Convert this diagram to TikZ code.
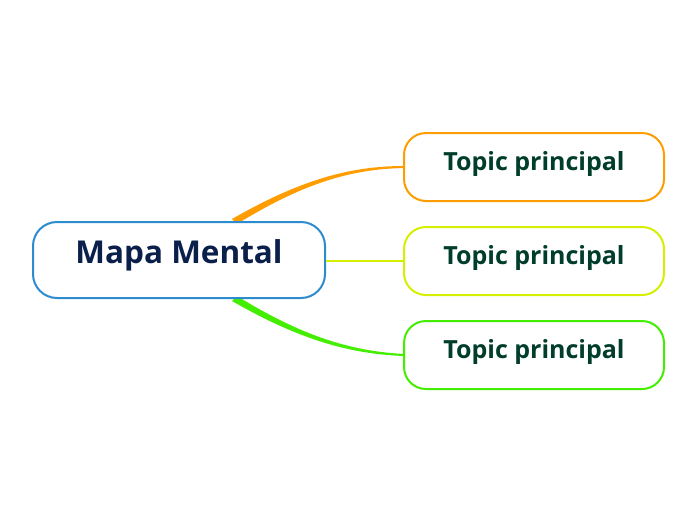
\documentclass[tikz,border=0pt]{standalone}
\usepackage{fontspec}
\setmainfont{Open Sans}
\usetikzlibrary{positioning,calc}
\definecolor{rootblue}{HTML}{2D8BD0}
\definecolor{navy}{HTML}{0B1F4B}
\definecolor{topicgreen}{HTML}{003D2B}
\definecolor{corange}{HTML}{FF9D00}
\definecolor{clime}{HTML}{D4F000}
\definecolor{cgreen}{HTML}{44EE00}
\tikzset{
  root/.style={draw=rootblue, line width=2pt, fill=white, rounded corners=24pt,
    minimum width=292pt, minimum height=76pt, text height=.75em, text depth=.03em,
    font=\fontsize{31.5}{36}\selectfont\bfseries, text=navy},
  topic/.style={draw=#1, line width=2pt, fill=white, rounded corners=22pt,
    minimum width=260pt, minimum height=68pt, text height=.75em, text depth=.03em,
    font=\fontsize{25}{30}\selectfont\bfseries, text=topicgreen}
}
\begin{document}
\begin{tikzpicture}[x=1pt,y=-1pt]
  \useasboundingbox (0,0) rectangle (696,520);
  \coordinate (o1) at (232,222);
  \coordinate (o3) at (232,298);
  \coordinate (t1) at (404,167);
  \coordinate (t3) at (404,355);
  % tapered branches
  \fill[corange] ($(o1)+(0,-3)$) .. controls (300,180) and (350,166) .. ($(t1)+(0,-1)$)
    -- ($(t1)+(0,1)$) .. controls (350,169) and (302,184) .. ($(o1)+(5,2)$) -- cycle;
  \fill[cgreen] ($(o3)+(0,3)$) .. controls (300,340) and (350,354) .. ($(t3)+(0,1)$)
    -- ($(t3)+(0,-1)$) .. controls (350,351) and (302,336) .. ($(o3)+(5,-2)$) -- cycle;
  \node[root] (map) at (179,260) {Mapa Mental};
  \node[topic=corange] (top1) at (534,167) {Topic principal};
  \node[topic=clime] (top2) at (534,261) {Topic principal};
  \node[topic=cgreen] (top3) at (534,355) {Topic principal};
  \draw[clime, line width=1.3pt] (map.east |- top2) -- (top2.west);
\end{tikzpicture}
\end{document}
